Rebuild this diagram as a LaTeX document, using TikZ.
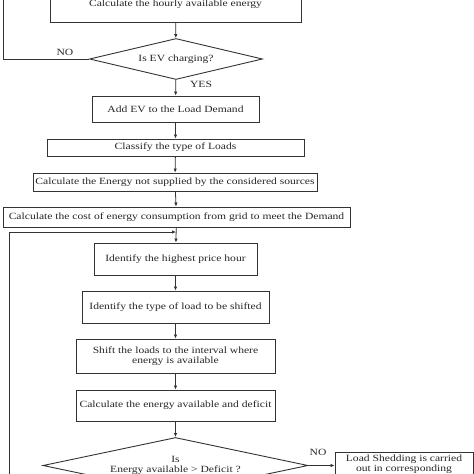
\documentclass[tikz,border=0pt]{standalone}
\usepackage{fontspec}
\setmainfont{Liberation Serif}[FakeStretch=1.22]
\usetikzlibrary{shapes.geometric,arrows.meta}
\begin{document}
\begin{tikzpicture}[x=1pt,y=-1pt,
  every node/.style={font=\fontsize{9.5}{10}\selectfont,text=black!85},
  procbox/.style={draw=black!80,line width=0.9pt,rectangle,inner sep=0pt,align=center},
  decbox/.style={draw=black!80,line width=0.9pt,diamond,inner sep=0pt,align=center},
  flow/.style={draw=black!80,line width=0.8pt,-{Latex[length=4pt,width=3.5pt]}},
  plainline/.style={draw=black!80,line width=0.8pt},
  lbl/.style={inner sep=0pt}]
\useasboundingbox (0,0) rectangle (474,474);
\clip (0,0) rectangle (474,474);
\fill[white] (0,0) rectangle (474,474);
\node[procbox,minimum width=251pt,minimum height=35pt] (b1) at (175.5,4.5) {Calculate the hourly available energy};
\node[decbox,minimum width=173pt,minimum height=41pt,aspect=4.2] (d1) at (176,59) {Is EV charging?};
\node[procbox,minimum width=167pt,minimum height=26pt] (b2) at (175.5,109) {Add EV to the Load Demand};
\node[procbox,minimum width=257pt,minimum height=17pt] (b3) at (175.5,147.5) {Classify the type of Loads};
\node[procbox,minimum width=284pt,minimum height=18pt] (b4) at (175,182) {Calculate the Energy not supplied by the considered sources};
\node[procbox,minimum width=347pt,minimum height=20pt] (b5) at (176.5,217) {Calculate the cost of energy consumption from grid to meet the Demand};
\node[procbox,minimum width=163pt,minimum height=32pt] (b6) at (175.5,259) {Identify the highest price hour};
\node[procbox,minimum width=187pt,minimum height=32pt] (b7) at (175.5,307) {Identify the type of load to be shifted};
\node[procbox,minimum width=199pt,minimum height=34pt] (b8) at (175.5,356) {Shift the loads to the interval where\\energy is available};
\node[procbox,minimum width=199pt,minimum height=31pt] (b9) at (175.5,405.5) {Calculate the energy available and deficit};
\node[decbox,minimum width=265pt,minimum height=56pt,aspect=4.7] (d2) at (175.5,465.5) {Is\\Energy available > Deficit ?};
\node[procbox,minimum width=138pt,anchor=north,inner ysep=2pt,text depth=22pt] (b10) at (404,452) {Load Shedding is carried\\out in corresponding};
\node[lbl] (no1) at (65,52) {NO};
\node[lbl] (yes1) at (201,84) {YES};
\node[lbl] (no2) at (318,452) {NO};
\coordinate (c1) at (3,59);
\coordinate (c1top) at (3,-20);
\coordinate (c2bot) at (9,520);
\coordinate (c2) at (9,232);
\coordinate (j2) at (176,232);
\draw[flow] (b1) -- (d1);
\draw[plainline] (d1.west) -- (c1) -- (c1top);
\draw[flow] (d1) -- (b2);
\draw[flow] (b2) -- (b3);
\draw[flow] (b3) -- (b4);
\draw[flow] (b4) -- (b5);
\draw[flow] (b5) -- (b6);
\draw[flow] (c2bot) -- (c2) -- (j2);
\draw[flow] (b6) -- (b7);
\draw[flow] (b7) -- (b8);
\draw[flow] (b8) -- (b9);
\draw[flow] (b9) -- (d2);
\draw[flow] (d2.east) -- (b10.west |- d2.east);
\end{tikzpicture}
\end{document}
